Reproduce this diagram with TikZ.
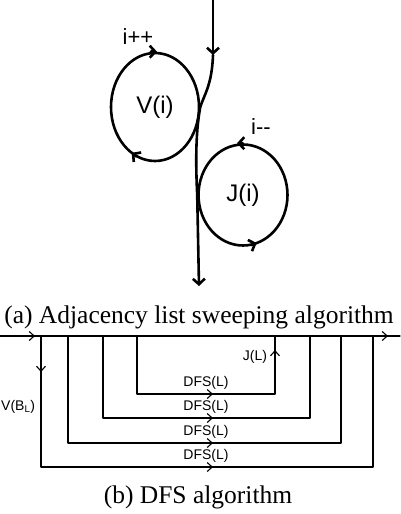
\documentclass[tikz,border=0pt]{standalone}
\usepackage{fontspec}
\setmainfont{Liberation Serif}
\setsansfont{Liberation Sans}
\usetikzlibrary{shapes.geometric,arrows.meta,calc}

\begin{document}
\begin{tikzpicture}[x=1pt, y=-1pt, line cap=round, line join=round,
    >={Straight Barb[length=5pt,width=9pt]}]
  \tikzset{
    thickline/.style={line width=2.6pt, >={Straight Barb[length=5.5pt,width=12pt]}},
    loopnode/.style={ellipse, inner sep=0pt, font=\sffamily\fontsize{24}{26}\selectfont},
    lbl/.style={font=\sffamily\fontsize{22}{24}\selectfont, inner sep=0pt},
    wire/.style={line width=1.1pt},
    small/.style={font=\sffamily\fontsize{14}{16}\selectfont, inner sep=0pt},
    capt/.style={font=\fontsize{25.5}{28}\selectfont, inner sep=0pt}
  }
  \useasboundingbox (0,0) rectangle (400,514);

  % Lussen V(i) en J(i)
  \node[loopnode, draw, thickline, minimum width=88pt, minimum height=108pt] (V) at (155,107) {V(i)};
  \node[loopnode, draw, thickline, minimum width=89pt, minimum height=101pt] (J) at (243,195) {J(i)};
  \node[lbl] (inc) at (138,37) {i++};
  \node[lbl] (dec) at (261,127) {i{-}{-}};

  % Pijltjes op de lussen
  \draw[thickline,->] ($(V.north)+(-4,0)$) -- ($(V.north)+(2,0)$);
  \draw[thickline,->] (136.5,156.5) -- (131.7,152.8);
  \draw[thickline,->] ($(J.north)+(0,0)$) -- ($(J.north)+(-6,0)$);
  \draw[thickline,->] (251.1,245.1) -- (256.7,243);

  % Doorloop van boven naar beneden
  \coordinate (top) at (213,0);
  \coordinate (mid) at (213,55);
  \coordinate (bot) at (199,286);
  \draw[thickline,->] (top) -- (mid);
  \draw[thickline] (mid) .. controls (212,85) and (204,95) .. (V.east)
    .. controls (195,135) and (196,170) .. (J.west);
  \draw[thickline,->] (J.west) -- (bot);

  % Onderschrift (a)
  \node[capt] (capa) at (199,317) {(a) Adjacency list sweeping algorithm};

  % DFS: bovenste lijn
  \coordinate (inL) at (0,336);
  \coordinate (inR) at (400,336);
  \draw[wire] (inL) -- (inR);
  \draw[wire,->] (inL) -- (35,336);
  \draw[wire,->] (380,336) -- (388,336);

  % Geneste lussen
  \foreach \xl/\yb/\xr [count=\i] in {41/467/373, 68/443/341, 103/418/310, 137/394/275}{
    \draw[wire] (\xl,336) -- (\xl,\yb) -- (\xr,\yb) -- (\xr,336);
    \draw[wire,->] (203,\yb) -- (213,\yb);
    \node[small] (dfs\i) at (206,\yb-11.5) {DFS(L)};
  }

  % Pijlen en labels aan de zijkant
  \draw[wire,->] (41,336) -- (41,372);
  \node[small, anchor=west] (vbl) at (1,407) {V(B\textsubscript{L})};
  \draw[wire,->] (275,360) -- (275,350);
  \node[small] (jl) at (255,357) {J(L)};

  % Onderschrift (b)
  \node[capt] (capb) at (198,497) {(b) DFS algorithm};
\end{tikzpicture}
\end{document}
